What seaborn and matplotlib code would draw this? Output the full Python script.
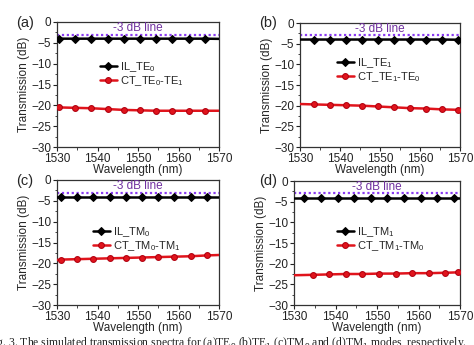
import numpy as np
import pandas as pd
import matplotlib
matplotlib.use("Agg")
import matplotlib.pyplot as plt
import seaborn as sns

sns.set_style("ticks")
plt.rcParams['font.family'] = ['Liberation Sans', 'DejaVu Sans']
plt.rcParams['mathtext.fontset'] = 'custom'
plt.rcParams['mathtext.rm'] = 'Liberation Sans'

# ---------------- data ----------------
panel_labels = ["(a)", "(b)", "(c)", "(d)"]
il_labels = ["IL_TE$_0$", "IL_TE$_1$", "IL_TM$_0$", "IL_TM$_1$"]
ct_labels = ["CT_TE$_0$-TE$_1$", "CT_TE$_1$-TE$_0$", "CT_TM$_0$-TM$_1$", "CT_TM$_1$-TM$_0$"]

# (a)
wl_a = [1530, 1530.5, 1534.5, 1538.5, 1542.5, 1546.5, 1550.5, 1554.5, 1558.5, 1562.5, 1566.5, 1570]
il_a = [-4.0, -4.0, -4.0, -4.0, -4.0, -4.0, -4.0, -4.0, -4.0, -4.0, -4.0, -4.05]
ct_a = [-20.5, -20.5, -20.6, -20.7, -20.9, -21.1, -21.2, -21.3, -21.3, -21.3, -21.3, -21.3]
# (b)
wl_b = [1530, 1533.5, 1537.5, 1541.5, 1545.5, 1549.5, 1553.5, 1557.5, 1561.5, 1565.5, 1569.5, 1570]
il_b = [-4.0, -4.0, -4.0, -4.0, -4.0, -4.0, -4.0, -4.0, -4.0, -4.0, -4.05, -4.05]
ct_b = [-19.6, -19.7, -19.8, -19.9, -20.0, -20.2, -20.4, -20.6, -20.7, -20.9, -21.0, -21.0]
# (c)
wl_c = [1530, 1531, 1535, 1539, 1543, 1547, 1551, 1555, 1559, 1563, 1567, 1570]
il_c = [-4.0, -4.0, -4.0, -4.0, -4.0, -4.0, -4.0, -4.0, -4.0, -4.0, -4.0, -4.0]
ct_c = [-19.2, -19.1, -19.0, -18.9, -18.8, -18.7, -18.6, -18.5, -18.4, -18.3, -18.1, -18.0]
# (d)
wl_d = [1530, 1532.5, 1536.5, 1540.5, 1544.5, 1548.5, 1552.5, 1556.5, 1560.5, 1564.5, 1568.5, 1570]
il_d = [-4.0, -4.0, -4.0, -4.0, -4.0, -4.0, -4.0, -4.0, -4.0, -4.0, -4.0, -4.0]
wl_d_ct = [1530, 1534.5, 1538.5, 1542.5, 1546.5, 1550.5, 1554.5, 1558.5, 1562.5, 1566.5, 1569.5, 1570]
ct_d = [-22.8, -22.7, -22.6, -22.5, -22.5, -22.4, -22.4, -22.3, -22.3, -22.2, -22.1, -22.1]

three_db = -3.0
xticks = [1530, 1540, 1550, 1560, 1570]
yticks = [0, -5, -10, -15, -20, -25, -30]

panels = [
    (wl_a, il_a, wl_a, ct_a),
    (wl_b, il_b, wl_b, ct_b),
    (wl_c, il_c, wl_c, ct_c),
    (wl_d, il_d, wl_d_ct, ct_d),
]

W, H = 474, 345
fig = plt.figure(figsize=(W / 100, H / 100), dpi=100)

def rect(l, r, t, b):
    return [l / W, (H - b) / H, (r - l) / W, (b - t) / H]

rects = [rect(57, 219, 22, 147), rect(300, 460, 23, 147),
         rect(57, 219, 180, 305), rect(294, 460, 181, 305)]
label_pos = [(16, 23), (259, 23), (16, 181), (259, 181)]
legend_anchor = [(0.238, 0.731), (0.204, 0.769), (0.195, 0.675), (0.232, 0.678)]

for i, (wl_il, il, wl_ct, ct) in enumerate(panels):
    ax = fig.add_axes(rects[i])
    df_il = pd.DataFrame({"wl": wl_il, "T": il})
    df_ct = pd.DataFrame({"wl": wl_ct, "T": ct})
    ax.axhline(three_db, color="#8a3cf0", lw=1.6, ls=(0, (1, 1.2)), zorder=1)
    ax.text(1550, -1.4, "-3 dB line", color="#7030a0", ha="center", va="center", fontsize=8.5)
    sns.lineplot(data=df_il, x="wl", y="T", ax=ax, color="black", lw=1.8,
                 marker="D", markersize=3.8, markevery=list(range(1, 11)),
                 markeredgecolor="black", label=il_labels[i], zorder=3)
    sns.lineplot(data=df_ct, x="wl", y="T", ax=ax, color="#e0141c", lw=1.8,
                 marker="o", markersize=4.2, markevery=list(range(1, 11)),
                 markeredgecolor="#b00010", label=ct_labels[i], zorder=3)
    ax.set_xlim(1530, 1570)
    ax.set_ylim(-30, 0)
    ax.set_xticks(xticks)
    ax.set_xticks([1535, 1545, 1555, 1565], minor=True)
    ax.set_yticks(yticks)
    ax.set_yticks([-2.5, -7.5, -12.5, -17.5, -22.5, -27.5], minor=True)
    ax.tick_params(axis="both", which="major", labelsize=8.5, length=3, width=0.8, pad=1,
                   direction="out", colors="#222222")
    ax.tick_params(axis="both", which="minor", length=1.8, width=0.6, direction="out")
    ax.set_xlabel("Wavelength (nm)", fontsize=8.5, labelpad=-0.5)
    ax.set_ylabel("Transmission (dB)", fontsize=8.5, labelpad=1)
    for s in ax.spines.values():
        s.set_linewidth(0.9)
        s.set_color("#333333")
        s.set_visible(True)
    leg = ax.legend(loc="upper left", bbox_to_anchor=legend_anchor[i], frameon=False,
                    fontsize=8, handlelength=1.5, handletextpad=0.3, labelspacing=0.0,
                    borderaxespad=0)
    fig.text(label_pos[i][0] / W, 1 - label_pos[i][1] / H, panel_labels[i],
             fontsize=10.5, ha="left", va="center")

fig.text(-0.027, 1 - 343 / H, "Fig. 3. The simulated transmission spectra for (a)TE$_0$ (b)TE$_1$ (c)TM$_0$ and (d)TM$_1$ modes, respectively.",
         fontsize=8.4, family=["Liberation Serif", "DejaVu Serif"], ha="left", va="center", color="#222222")

fig.savefig("out.png", dpi=100)
